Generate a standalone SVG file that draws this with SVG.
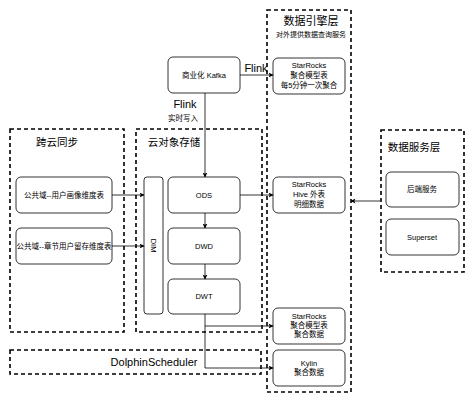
<svg xmlns="http://www.w3.org/2000/svg" width="474" height="402" viewBox="0 0 474 402">
<defs>
<marker id="ah" viewBox="0 0 10 10" refX="9" refY="5" markerWidth="5" markerHeight="5" orient="auto" markerUnits="userSpaceOnUse"><path d="M0,0 L10,5 L0,10 L2.5,5 Z" fill="#000"/></marker>
</defs>
<style>
text{font-family:"Liberation Sans","Noto Sans CJK SC",Arial,sans-serif;fill:#000;text-anchor:middle;}
.grp{fill:none;stroke:#000;stroke-width:1.6;stroke-dasharray:4 3;}
.node{fill:#fff;stroke:#000;stroke-width:0.8;}
.t{font-size:7.5px;}
.title{font-size:10.5px;}
.lbl{font-size:11px;}
.edge{fill:none;stroke:#000;stroke-width:0.8;marker-end:url(#ah);}
.line{fill:none;stroke:#000;stroke-width:0.8;}
</style>
<rect width="474" height="402" fill="#fff"/>
<g id="group-cross-cloud"><rect class="grp" x="10" y="129" width="114" height="203"/><text class="title" x="57" y="146">跨云同步</text></g>
<g id="group-object-storage"><rect class="grp" x="136" y="129" width="126" height="203"/><text class="title" x="174" y="146">云对象存储</text></g>
<g id="group-engine"><rect class="grp" x="267" y="10" width="84" height="382"/><text class="title" x="311" y="25" style="font-size:11px">数据引擎层</text><text class="t" x="311" y="37" style="font-size:7px">对外提供数据查询服务</text></g>
<g id="group-service"><rect class="grp" x="381" y="130" width="83" height="142"/><text class="title" x="414" y="151">数据服务层</text></g>
<g id="group-dolphin"><rect class="grp" x="10" y="350" width="251" height="24"/><text class="lbl" x="154" y="366">DolphinScheduler</text></g>

<g id="node-kafka"><rect class="node" x="168" y="57" width="72" height="36" rx="5"/><text class="t" x="204" y="78">商业化 Kafka</text></g>
<g id="node-dim1"><rect class="node" x="16" y="177" width="96" height="36" rx="5"/><text class="t" x="64" y="198">公共域--用户画像维度表</text></g>
<g id="node-dim2"><rect class="node" x="16" y="228" width="96" height="36" rx="5"/><text class="t" x="64" y="249">公共域--章节用户留存维度表</text></g>
<g id="node-dim"><rect class="node" x="144" y="177" width="19" height="137" rx="3"/><text class="t" x="153.5" y="245.5" transform="rotate(90 153.5 245.5)" dy="2.5">DIM</text></g>
<g id="node-ods"><rect class="node" x="168" y="177" width="72" height="36" rx="5"/><text class="t" x="204" y="198">ODS</text></g>
<g id="node-dwd"><rect class="node" x="168" y="228" width="72" height="36" rx="5"/><text class="t" x="204" y="249">DWD</text></g>
<g id="node-dwt"><rect class="node" x="168" y="279" width="72" height="35" rx="5"/><text class="t" x="204" y="299">DWT</text></g>
<g id="node-sr1"><rect class="node" x="273" y="58" width="72" height="36" rx="5"/><text class="t" x="309" y="68">StarRocks</text><text class="t" x="309" y="78">聚合模型表</text><text class="t" x="309" y="88">每5分钟一次聚合</text></g>
<g id="node-sr2"><rect class="node" x="273" y="177" width="72" height="36" rx="5"/><text class="t" x="309" y="187">StarRocks</text><text class="t" x="309" y="197">Hive 外表</text><text class="t" x="309" y="207">明细数据</text></g>
<g id="node-sr3"><rect class="node" x="273" y="308" width="72" height="36" rx="5"/><text class="t" x="309" y="319">StarRocks</text><text class="t" x="309" y="328">聚合模型表</text><text class="t" x="309" y="337">聚合数据</text></g>
<g id="node-kylin"><rect class="node" x="273" y="350" width="72" height="36" rx="5"/><text class="t" x="309" y="366">Kylin</text><text class="t" x="309" y="375">聚合数据</text></g>
<g id="node-backend"><rect class="node" x="386" y="172" width="73" height="35" rx="5"/><text class="t" x="422" y="192">后端服务</text></g>
<g id="node-superset"><rect class="node" x="386" y="219" width="73" height="36" rx="5"/><text class="t" x="422" y="240">Superset</text></g>

<g id="connectors">
<path class="edge" d="M240,75 L273,75"/>
<text class="lbl" x="256" y="72">Flink</text>
<path class="edge" d="M205,93 L205,177"/>
<text class="lbl" x="185" y="108">Flink</text>
<text class="t" x="183" y="121">实时写入</text>
<path class="edge" d="M112,195 L144,195"/>
<path class="edge" d="M112,246 L144,246"/>
<path class="edge" d="M205,213 L205,228"/>
<path class="edge" d="M205,264 L205,279"/>
<path class="edge" d="M240,195 L273,195"/>
<path class="line" d="M205,314 L205,368"/>
<path class="edge" d="M205,326 L273,326"/>
<path class="edge" d="M205,368 L273,368"/>
<path class="edge" d="M380,201 L351,201"/>
</g>
</svg>
